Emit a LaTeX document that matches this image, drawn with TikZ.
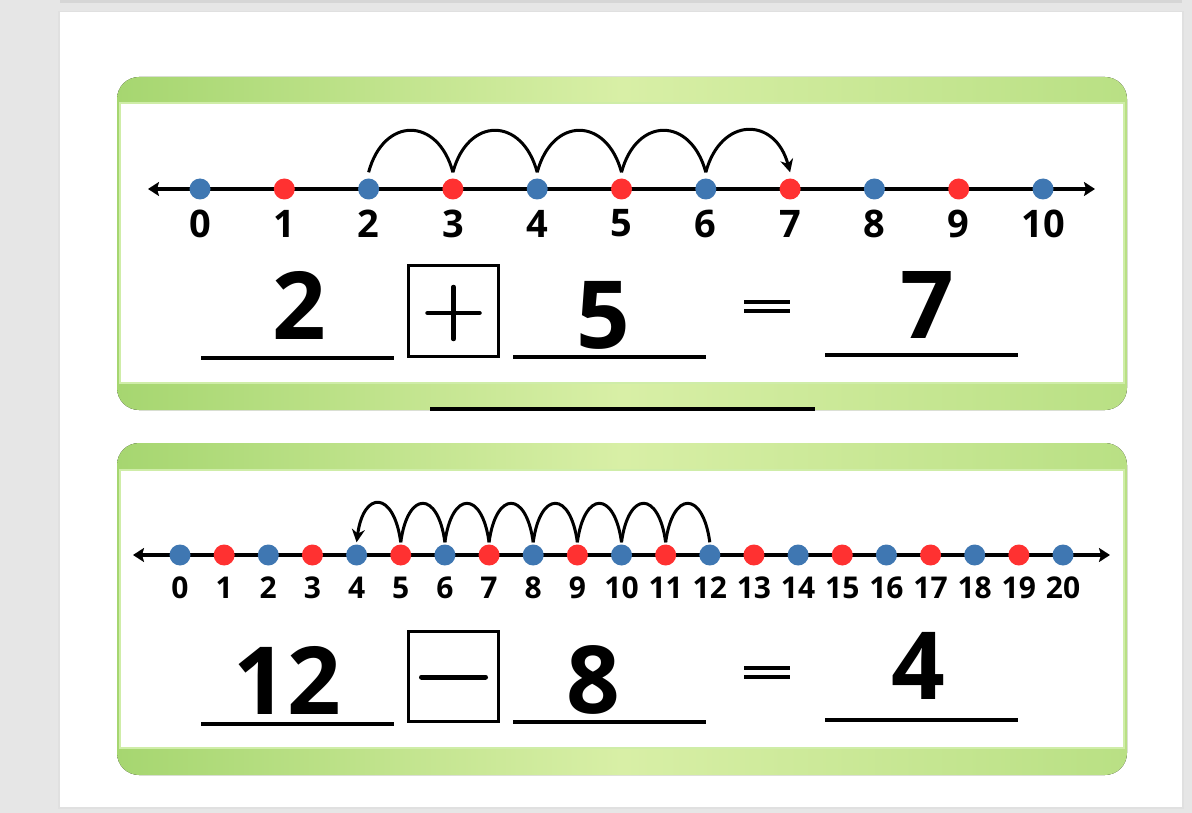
\documentclass[tikz,border=0pt]{standalone}
\usepackage{fontspec}
\setmainfont{Open Sans}
\usetikzlibrary{arrows.meta,positioning}

\definecolor{deskgray}{HTML}{E6E6E6}
\definecolor{dotblue}{HTML}{3F77B2}
\definecolor{dotred}{HTML}{FF3131}
\definecolor{leafdark}{HTML}{A6D670}
\definecolor{leaflight}{HTML}{D8EFA6}
\definecolor{leafmid}{HTML}{B9E084}
\definecolor{leafedge}{HTML}{CFEDA8}

\begin{document}
\begin{tikzpicture}
  [x=1pt,y=-1pt,
   dot/.style={circle,inner sep=0pt,minimum size=21pt},
   bluedot/.style={dot,fill=dotblue},
   reddot/.style={dot,fill=dotred},
   numline/.style={line width=3.2pt,{Stealth[length=11pt,width=14pt,inset=2pt]}-{Stealth[length=11pt,width=14pt,inset=2pt]}},
   hop/.style={line width=3pt},
   toplab/.style={font=\fontsize{38}{38}\selectfont\bfseries},
   botlab/.style={font=\fontsize{30}{30}\selectfont\bfseries},
   eqnum/.style={font=\fontsize{94}{94}\selectfont\bfseries},
   blank/.style={line width=3.5pt},
   opbox/.style={draw,line width=3pt,minimum size=90pt,inner sep=0pt},
   card/.style={rounded corners=22pt,left color=leafdark,right color=leafmid,middle color=leaflight},
   panel/.style={fill=white,draw=leafedge,line width=2.5pt}]

  \useasboundingbox (0,0) rectangle (1192,813);
  % page
  \fill[deskgray] (0,0) rectangle (1192,813);
  \fill[black!16] (60,0) rectangle (1182,3);
  \fill[black!12] (58,11) rectangle (1184,809);
  \fill[white] (60,12) rectangle (1182,807);

  % cards
  \fill[card] (117,77) rectangle (1127,410);
  \filldraw[panel] (120,103) rectangle (1124,383);
  \fill[card] (117,443) rectangle (1127,775);
  \filldraw[panel] (120,470) rectangle (1124,748);
  \draw[line width=3.5pt] (430,409) -- (815,409);

  % first number line
  \coordinate (l1) at (148,189);
  \coordinate (r1) at (1095,189);
  \draw[numline] (l1) -- (r1);
  \foreach \i in {0,2,...,10}
    \node[bluedot] (a\i) at ({200+84.3*\i},189) {};
  \foreach \i in {1,3,...,9}
    \node[reddot] (a\i) at ({200+84.3*\i},189) {};
  \foreach \i in {0,...,10}
    \node[toplab] (la\i) at ({200+84.3*\i},223.5) {\i};

  \foreach \from/\to in {a2/a3, a3/a4, a4/a5, a5/a6}
    \draw[hop] ([yshift=6pt]\from.north) .. controls +(15,-56) and +(-15,-56) .. ([yshift=6pt]\to.north);
  \draw[hop,-{Stealth[length=13pt,width=13pt]}] ([yshift=6pt]a6.north) .. controls +(15,-56) and +(-15,-56) .. ([yshift=6pt]a7.north);

  % second number line
  \coordinate (l2) at (133,555);
  \coordinate (r2) at (1110,555);
  \draw[numline] (l2) -- (r2);
  \foreach \i in {0,2,...,20}
    \node[bluedot] (b\i) at ({180+44.15*\i},555) {};
  \foreach \i in {1,3,...,19}
    \node[reddot] (b\i) at ({180+44.15*\i},555) {};
  \foreach \i in {0,...,20}
    \node[botlab] (lb\i) at ({180+44.15*\i},588) {\i};

  \foreach \from/\to in {b12/b11, b11/b10, b10/b9, b9/b8, b8/b7, b7/b6, b6/b5}
    \draw[hop] ([yshift=2pt]\from.north) .. controls +(-7,-52) and +(7,-52) .. ([yshift=2pt]\to.north);
  \draw[hop,-{Stealth[length=13pt,width=13pt]}] ([yshift=2pt]b5.north) .. controls +(-7,-52) and +(7,-52) .. ([yshift=2pt]b4.north);

  % 2 + 5 = 7
  \node[eqnum] (n1) at (299,305.5) {2};
  \node[opbox] (op1) at (453.5,311) {};
  \draw[line width=4.5pt,line cap=round] (op1.center) ++(-26,2) -- ++(52,0);
  \draw[line width=4.5pt,line cap=round] (op1.center) ++(0,-24) -- ++(0,52);
  \node[eqnum] (n2) at (603,315.5) {5};
  \draw[line width=4pt] (744,302) -- (790,302) (744,311) -- (790,311);
  \node[eqnum] (n3) at (927.5,305) {7};
  \draw[blank] (201,358) -- (394,358);
  \draw[blank] (513,357) -- (706,357);
  \draw[blank] (825,355) -- (1018,355);

  % 12 - 8 = 4
  \node[eqnum] (n4) at (287,680) {12};
  \node[opbox] (op2) at (453.5,676.5) {};
  \draw[line width=5pt,line cap=round] (op2.center) ++(-32,0.5) -- ++(64,0);
  \node[eqnum] (n5) at (593.5,680) {8};
  \draw[line width=4pt] (744,668) -- (790,668) (744,677) -- (790,677);
  \node[eqnum] (n6) at (918,666) {4};
  \draw[blank] (201,724) -- (394,724);
  \draw[blank] (513,722) -- (706,722);
  \draw[blank] (825,720) -- (1018,720);

\end{tikzpicture}
\end{document}
